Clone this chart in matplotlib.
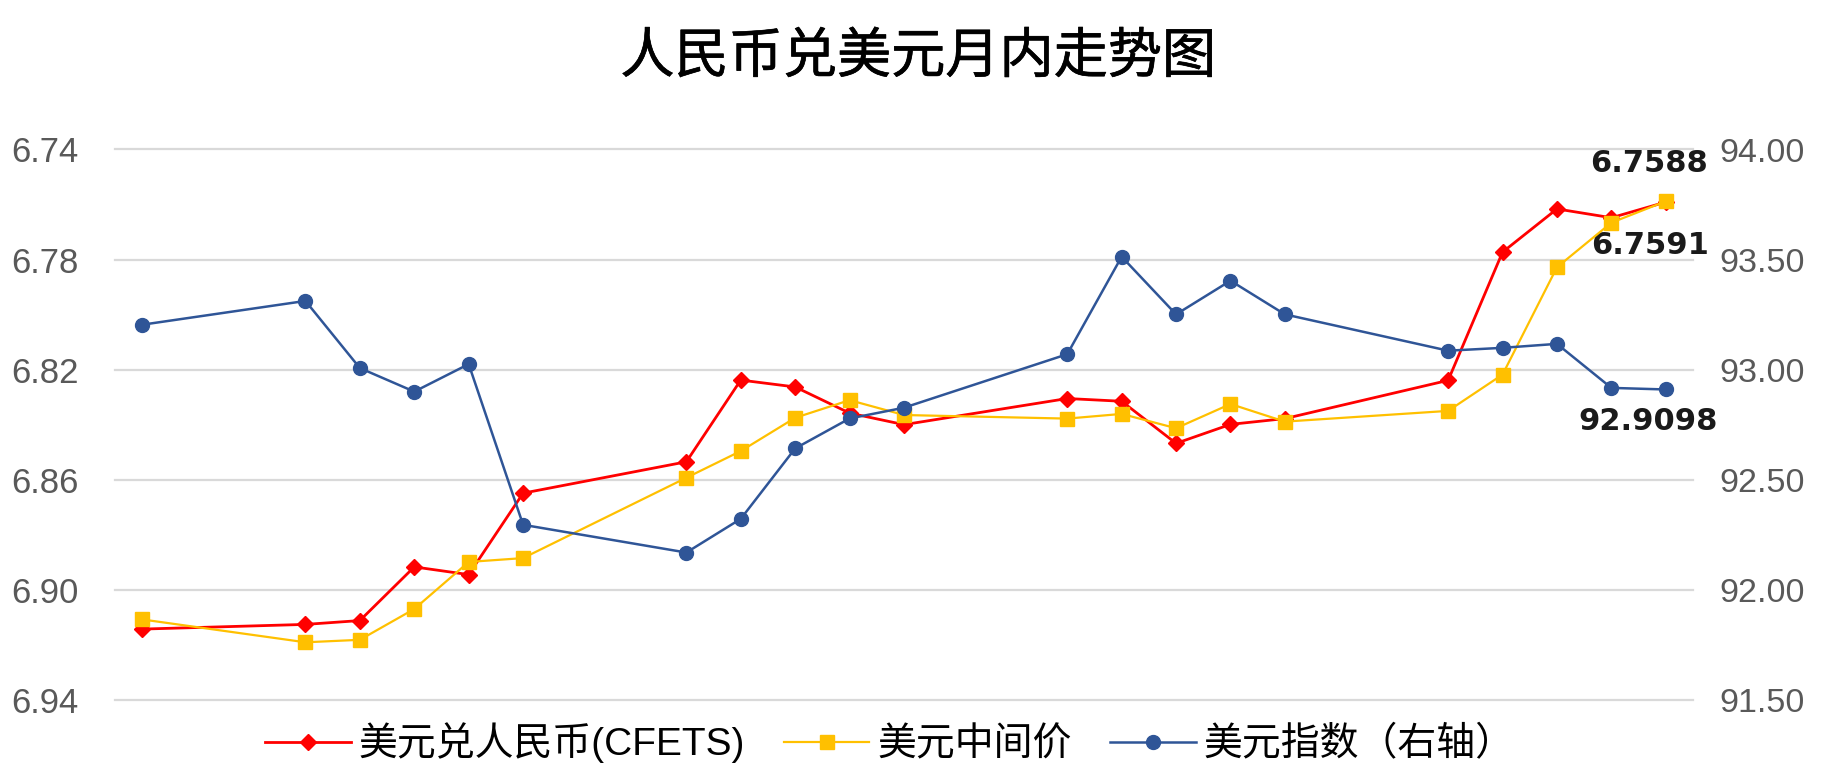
import matplotlib
matplotlib.use("Agg")
import matplotlib.pyplot as plt
import matplotlib.patheffects as pe
from matplotlib.ticker import FormatStrFormatter, FixedLocator

plt.rcParams['font.family'] = ['Liberation Sans', 'Noto Sans CJK SC', 'DejaVu Sans']

# ---- data ----
title = "人民币兑美元月内走势图"
day = [0, 3, 4, 5, 6, 7, 10, 11, 12, 13, 14, 17, 18, 19, 20, 21, 24, 25, 26, 27, 28]
cfets = [6.9143, 6.9126, 6.9112, 6.8917, 6.8945, 6.8649, 6.8535, 6.8238, 6.8263, 6.8358,
         6.8400, 6.8305, 6.8315, 6.8468, 6.8399, 6.8378, 6.8239, 6.7773, 6.7616, 6.7648, 6.7591]
central = [6.9108, 6.9191, 6.9182, 6.9070, 6.8899, 6.8885, 6.8593, 6.8496, 6.8375, 6.8311,
           6.8365, 6.8378, 6.8361, 6.8413, 6.8325, 6.8389, 6.8350, 6.8218, 6.7828, 6.7666, 6.7588]
dxy = [93.204, 93.312, 93.007, 92.900, 93.025, 92.295, 92.169, 92.322, 92.642, 92.778,
       92.827, 93.070, 93.513, 93.251, 93.404, 93.251, 93.086, 93.099, 93.117, 92.917, 92.9098]
series_names = ["美元兑人民币(CFETS)", "美元中间价", "美元指数（右轴）"]
left_ticks = [6.74, 6.78, 6.82, 6.86, 6.90, 6.94]
right_ticks = [91.50, 92.00, 92.50, 93.00, 93.50, 94.00]

RED, YEL, BLU = "#FF0000", "#FFC000", "#2F5597"
TICK = "#595959"

fig = plt.figure(figsize=(18.22, 7.70), dpi=100)
W, H = 1822, 770
x0, x1, ytop, ybot = 115, 1693, 149.5, 699.8
ax = fig.add_axes([x0 / W, 1 - ybot / H, (x1 - x0) / W, (ybot - ytop) / H])
ax2 = ax.twinx()

l1, = ax.plot(day, cfets, color=RED, lw=2.0, marker='D', ms=7.8, zorder=3)
l2, = ax.plot(day, central, color=YEL, lw=1.6, marker='s', ms=10.5, zorder=4)
l3, = ax2.plot(day, dxy, color=BLU, lw=1.8, marker='o', ms=10, zorder=3)

ax.set_xlim(-0.5, 28.5)
ax.set_ylim(6.94, 6.74)
ax2.set_ylim(91.5, 94.0)
ax.yaxis.set_major_locator(FixedLocator(left_ticks))
ax2.yaxis.set_major_locator(FixedLocator(right_ticks))
ax.yaxis.set_major_formatter(FormatStrFormatter('%.2f'))
ax2.yaxis.set_major_formatter(FormatStrFormatter('%.2f'))
ax.set_xticks([])
ax2.set_xticks([])

for a in (ax, ax2):
    for s in a.spines.values():
        s.set_visible(False)
ax.tick_params(axis='y', length=0, pad=26, labelsize=25, labelcolor=TICK)
ax2.tick_params(axis='y', length=0, pad=19, labelsize=24.5, labelcolor=TICK)

ax.yaxis.grid(True, color='#D9D9D9', lw=1.6)
ax.set_axisbelow(True)
for gl in ax.get_ygridlines():
    gl.set_clip_on(False)

# data labels
lab_kw = dict(textcoords='offset points', ha='center', va='center', fontsize=22,
              fontweight='bold', family='DejaVu Sans', color='#1a1a1a')
ax.annotate(f"{central[-1]:.4f}", (day[-1], central[-1]), xytext=(-12, 27), **lab_kw)
ax.annotate(f"{cfets[-1]:.4f}", (day[-1], cfets[-1]), xytext=(-11, -31), **lab_kw)
ax2.annotate(f"{dxy[-1]:.4f}", (day[-1], dxy[-1]), xytext=(-13, -23), **lab_kw)

fig.text(918 / W, 1 - 57 / H, title, ha='center', va='center', fontsize=39,
         family=['Noto Sans CJK SC'], color='#000000',
         path_effects=[pe.withStroke(linewidth=0.5, foreground='#000000')])

leg = fig.legend([l1, l2, l3], series_names, loc='center',
                 bbox_to_anchor=(890 / W, 1 - 743 / H), ncol=3, frameon=False,
                 fontsize=28, handlelength=2.2, handletextpad=0.2, columnspacing=1.0,
                 borderpad=0, borderaxespad=0)
for t in leg.get_texts():
    t.set_color('#000000')

fig.savefig("out.png", dpi=100, facecolor='white')
